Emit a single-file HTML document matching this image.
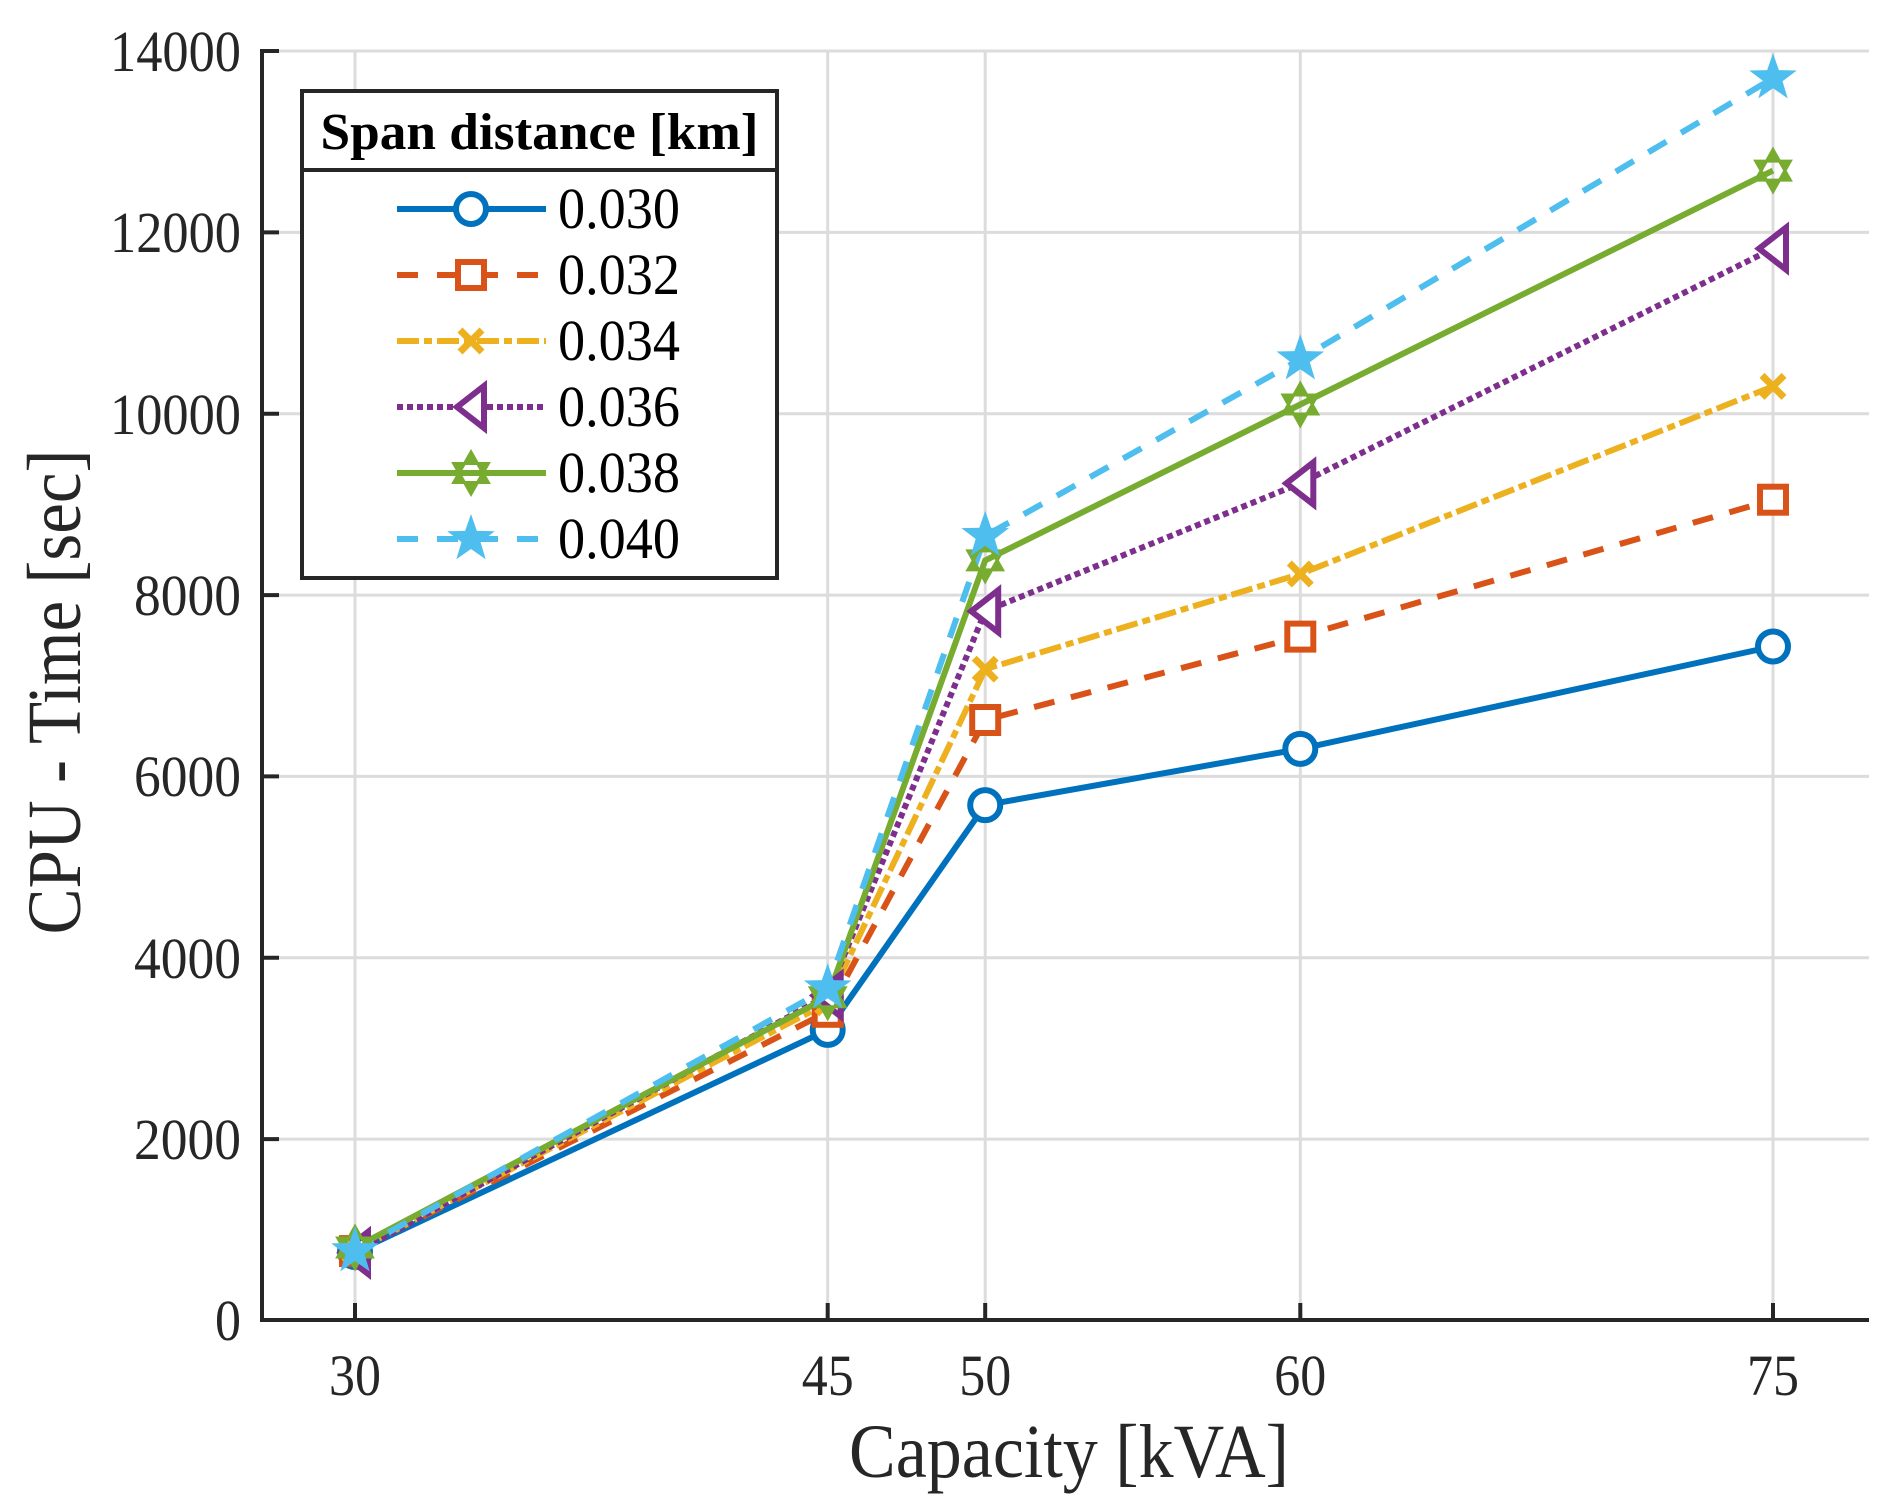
<!DOCTYPE html>
<html><head><meta charset="utf-8"><style>
html,body{margin:0;padding:0;background:#fff}
svg{display:block}
text{font-family:"Liberation Serif","DejaVu Serif",serif;fill:#262626}
</style></head><body>
<svg width="1893" height="1506" viewBox="0 0 1893 1506" xmlns="http://www.w3.org/2000/svg">
<defs>
<g id="mo"><circle r="15" fill="#fff" stroke="#0072BD" stroke-width="6"/></g>
<g id="ms"><rect x="-13" y="-13" width="26" height="26" fill="#fff" stroke="#D95319" stroke-width="6"/></g>
<g id="mx"><path d="M-11,-11L11,11M-11,11L11,-11" stroke="#EDB120" stroke-width="7" fill="none"/></g>
<g id="mt"><path d="M-14,0L13,-21L13,21Z" fill="#fff" stroke="#7E2F8E" stroke-width="6" stroke-linejoin="miter"/></g>
<g id="mh"><path d="M0,-21L17.3,9.5L-17.3,9.5Z M0,21L17.3,-9.5L-17.3,-9.5Z" fill="#77AC30" stroke="#77AC30" stroke-width="3"/></g>
<g id="mp"><path d="M0,-25L5.88,-8.09L23.78,-7.73L9.51,3.09L14.69,20.23L0,10L-14.69,20.23L-9.51,3.09L-23.78,-7.73L-5.88,-8.09Z" fill="#4DBEEE"/></g>
</defs>
<g stroke="#dcdcdc" stroke-width="3">
<line x1="262" y1="51" x2="1869" y2="51"/>
<line x1="262" y1="232.4" x2="1869" y2="232.4"/>
<line x1="262" y1="413.7" x2="1869" y2="413.7"/>
<line x1="262" y1="595.1" x2="1869" y2="595.1"/>
<line x1="262" y1="776.4" x2="1869" y2="776.4"/>
<line x1="262" y1="957.7" x2="1869" y2="957.7"/>
<line x1="262" y1="1139.1" x2="1869" y2="1139.1"/>
<line x1="355" y1="51" x2="355" y2="1320"/>
<line x1="827.7" y1="51" x2="827.7" y2="1320"/>
<line x1="985.2" y1="51" x2="985.2" y2="1320"/>
<line x1="1300.3" y1="51" x2="1300.3" y2="1320"/>
<line x1="1773" y1="51" x2="1773" y2="1320"/>
</g>
<g stroke="#262626" stroke-width="4" fill="none">
<path d="M262,49L262,1320L1869,1320"/>
<path d="M262,51h17M262,232.4h17M262,413.7h17M262,595.1h17M262,776.4h17M262,957.7h17M262,1139.1h17"/>
<path d="M355,1320v-17M827.7,1320v-17M985.2,1320v-17M1300.3,1320v-17M1773,1320v-17"/>
</g>
<g font-size="58" text-anchor="end" lengthAdjust="spacingAndGlyphs">
<text x="241" y="71" textLength="131" lengthAdjust="spacingAndGlyphs">14000</text>
<text x="241" y="252" textLength="131" lengthAdjust="spacingAndGlyphs">12000</text>
<text x="241" y="434" textLength="131" lengthAdjust="spacingAndGlyphs">10000</text>
<text x="241" y="615" textLength="107" lengthAdjust="spacingAndGlyphs">8000</text>
<text x="241" y="796" textLength="107" lengthAdjust="spacingAndGlyphs">6000</text>
<text x="241" y="978" textLength="107" lengthAdjust="spacingAndGlyphs">4000</text>
<text x="241" y="1159" textLength="107" lengthAdjust="spacingAndGlyphs">2000</text>
<text x="241" y="1340" textLength="26" lengthAdjust="spacingAndGlyphs">0</text>
</g>
<g font-size="58" text-anchor="middle">
<text x="355" y="1395" textLength="52" lengthAdjust="spacingAndGlyphs">30</text>
<text x="827.7" y="1395" textLength="52" lengthAdjust="spacingAndGlyphs">45</text>
<text x="985.2" y="1395" textLength="52" lengthAdjust="spacingAndGlyphs">50</text>
<text x="1300.3" y="1395" textLength="52" lengthAdjust="spacingAndGlyphs">60</text>
<text x="1773" y="1395" textLength="52" lengthAdjust="spacingAndGlyphs">75</text>
</g>
<text x="1069" y="1477" font-size="76" text-anchor="middle" textLength="440" lengthAdjust="spacingAndGlyphs">Capacity [kVA]</text>
<text transform="translate(80,692) rotate(-90)" font-size="76" text-anchor="middle" textLength="485" lengthAdjust="spacingAndGlyphs">CPU - Time [sec]</text>
<g fill="none" stroke-width="6">
<polyline stroke="#0072BD" points="355,1252 827.7,1029.9 985.2,805.1 1300.3,748.9 1773,646.5"/>
<polyline stroke="#D95319" stroke-dasharray="21 17" points="355,1251.1 827.7,1011.8 985.2,720 1300.3,636.6 1773,499.7"/>
<polyline stroke="#EDB120" stroke-dasharray="22 5 8 5" points="355,1251.1 827.7,1002.8 985.2,669.2 1300.3,574 1773,386.4"/>
<polyline stroke="#7E2F8E" stroke-dasharray="6 4" points="355,1252.9 827.7,995.5 985.2,611.2 1300.3,483.4 1773,248.6"/>
<polyline stroke="#77AC30" points="355,1247.5 827.7,997.3 985.2,560.4 1300.3,404.5 1773,170.6"/>
<polyline stroke="#4DBEEE" stroke-dasharray="21 17" points="355,1251.1 827.7,988.2 985.2,535.9 1300.3,359.2 1773,78.2"/>
</g>
<g>
<use href="#mo" x="355" y="1252"/><use href="#mo" x="827.7" y="1029.9"/><use href="#mo" x="985.2" y="805.1"/><use href="#mo" x="1300.3" y="748.9"/><use href="#mo" x="1773" y="646.5"/>
<use href="#ms" x="355" y="1251.1"/><use href="#ms" x="827.7" y="1011.8"/><use href="#ms" x="985.2" y="720"/><use href="#ms" x="1300.3" y="636.6"/><use href="#ms" x="1773" y="499.7"/>
<use href="#mx" x="355" y="1251.1"/><use href="#mx" x="827.7" y="1002.8"/><use href="#mx" x="985.2" y="669.2"/><use href="#mx" x="1300.3" y="574"/><use href="#mx" x="1773" y="386.4"/>
<use href="#mt" x="355" y="1252.9"/><use href="#mt" x="827.7" y="995.5"/><use href="#mt" x="985.2" y="611.2"/><use href="#mt" x="1300.3" y="483.4"/><use href="#mt" x="1773" y="248.6"/>
<use href="#mh" x="355" y="1247.5"/><use href="#mh" x="827.7" y="997.3"/><use href="#mh" x="985.2" y="560.4"/><use href="#mh" x="1300.3" y="404.5"/><use href="#mh" x="1773" y="170.6"/>
<use href="#mp" x="355" y="1251.1"/><use href="#mp" x="827.7" y="988.2"/><use href="#mp" x="985.2" y="535.9"/><use href="#mp" x="1300.3" y="359.2"/><use href="#mp" x="1773" y="78.2"/>
</g>
<rect x="302" y="91" width="475" height="487" fill="#fff" stroke="#262626" stroke-width="4"/>
<line x1="302" y1="170" x2="777" y2="170" stroke="#262626" stroke-width="4"/>
<text x="539.5" y="149" font-size="52" font-weight="bold" text-anchor="middle" textLength="438" lengthAdjust="spacingAndGlyphs" style="fill:#000">Span distance [km]</text>
<g fill="none" stroke-width="6">
<line x1="397" y1="209" x2="546" y2="209" stroke="#0072BD"/>
<line x1="397" y1="275" x2="546" y2="275" stroke="#D95319" stroke-dasharray="21 19"/>
<line x1="397" y1="341" x2="546" y2="341" stroke="#EDB120" stroke-dasharray="22 5 8 5"/>
<line x1="397" y1="407" x2="546" y2="407" stroke="#7E2F8E" stroke-dasharray="6 4"/>
<line x1="397" y1="473" x2="546" y2="473" stroke="#77AC30"/>
<line x1="397" y1="539" x2="546" y2="539" stroke="#4DBEEE" stroke-dasharray="21 19"/>
</g>
<use href="#mo" x="471" y="209"/><use href="#ms" x="471" y="275"/><use href="#mx" x="471" y="341"/>
<use href="#mt" x="471" y="407"/><use href="#mh" x="471" y="473"/><use href="#mp" x="471" y="539"/>
<g font-size="58">
<text x="558" y="228" textLength="122" lengthAdjust="spacingAndGlyphs" style="fill:#000">0.030</text>
<text x="558" y="294" textLength="122" lengthAdjust="spacingAndGlyphs" style="fill:#000">0.032</text>
<text x="558" y="360" textLength="122" lengthAdjust="spacingAndGlyphs" style="fill:#000">0.034</text>
<text x="558" y="426" textLength="122" lengthAdjust="spacingAndGlyphs" style="fill:#000">0.036</text>
<text x="558" y="492" textLength="122" lengthAdjust="spacingAndGlyphs" style="fill:#000">0.038</text>
<text x="558" y="558" textLength="122" lengthAdjust="spacingAndGlyphs" style="fill:#000">0.040</text>
</g>
</svg>
</body></html>
